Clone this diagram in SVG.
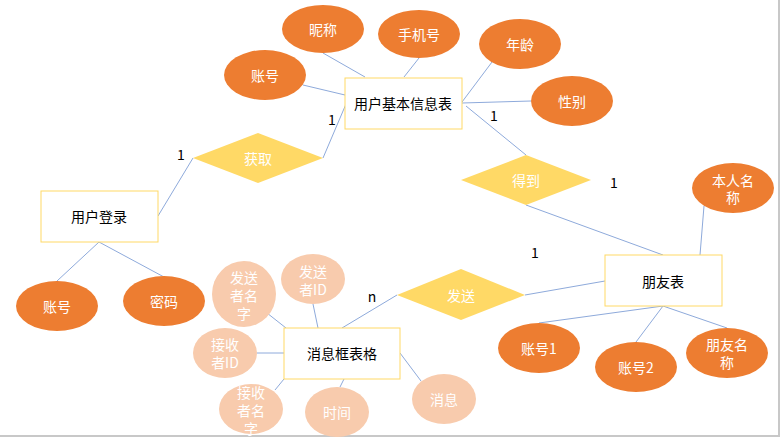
<svg xmlns="http://www.w3.org/2000/svg" width="780" height="437" viewBox="0 0 780 437">
<style>
text{font-family:"Noto Sans CJK SC","Liberation Sans",sans-serif;font-size:14px;text-anchor:middle;dominant-baseline:central}
.e{fill:#ed7d31}.l{fill:#f8cbad}.r{fill:#fff;stroke:#ffd966;stroke-width:1}.d{fill:#ffd966;stroke:none}
.w{fill:#fff}.k{fill:#000}
#c line{stroke:#8eaadb;stroke-width:1}
</style>
<rect width="780" height="437" fill="#fff"/>
<path d="M779,0V436H0" fill="none" stroke="#c8c8c8" stroke-width="2"/>
<g id="c">
<line x1="323" y1="53" x2="365" y2="77"/><line x1="419" y1="58" x2="404" y2="77"/><line x1="492" y1="62" x2="462" y2="102"/>
<line x1="303" y1="85" x2="345" y2="95"/><line x1="531" y1="101" x2="462" y2="103"/>
<line x1="346" y1="104" x2="323" y2="158"/><line x1="193" y1="158" x2="158" y2="216"/>
<line x1="466" y1="106" x2="526" y2="155"/><line x1="526" y1="205" x2="663" y2="255"/>
<line x1="704" y1="206" x2="700" y2="255"/>
<line x1="99" y1="242" x2="57" y2="281"/><line x1="99" y1="242" x2="164" y2="277"/>
<line x1="525" y1="295" x2="605" y2="281"/><line x1="397" y1="295" x2="342" y2="328"/>
<line x1="663" y1="306" x2="539" y2="323"/><line x1="663" y1="306" x2="636" y2="342"/><line x1="663" y1="306" x2="727" y2="328"/>
<line x1="267" y1="313" x2="286" y2="328"/><line x1="313" y1="304" x2="318" y2="328"/><line x1="257" y1="353" x2="284" y2="353"/>
<line x1="275" y1="390" x2="284" y2="379"/><line x1="344" y1="379" x2="340" y2="387"/><line x1="400" y1="353" x2="421" y2="381"/>
</g>
<g id="labels" class="k"><text x="332" y="119">1</text><text x="181" y="154">1</text><text x="494" y="115">1</text><text x="614" y="182">1</text><text x="535" y="252">1</text><text x="372" y="296">n</text></g>
<g id="n1"><ellipse class="e" cx="323" cy="29" rx="41" ry="24"/><text class="w" x="323" y="29">昵称</text></g>
<g id="n2"><ellipse class="e" cx="419" cy="34" rx="41" ry="24"/><text class="w" x="419" y="34">手机号</text></g>
<g id="n3"><ellipse class="e" cx="520" cy="44" rx="41" ry="25"/><text class="w" x="520" y="44">年龄</text></g>
<g id="n4"><ellipse class="e" cx="265" cy="75" rx="41" ry="25"/><text class="w" x="265" y="75">账号</text></g>
<g id="n5"><ellipse class="e" cx="572" cy="101" rx="41" ry="25"/><text class="w" x="572" y="101">性别</text></g>
<g id="n6"><rect class="r" x="345" y="78" width="117" height="51"/><text class="k" x="403" y="103">用户基本信息表</text></g>
<g id="n7"><polygon class="d" points="193,158 258,133 323,158 258,183"/><text class="w" x="258" y="158">获取</text></g>
<g id="n8"><rect class="r" x="41" y="191" width="117" height="51"/><text class="k" x="99" y="216">用户登录</text></g>
<g id="n9"><polygon class="d" points="461,180 526,155 591,180 526,205"/><text class="w" x="526" y="180">得到</text></g>
<g id="n10"><ellipse class="e" cx="733" cy="188" rx="41" ry="25"/><text class="w" x="733" y="180">本人名</text><text class="w" x="733" y="197">称</text></g>
<g id="n11"><rect class="r" x="605" y="255" width="117" height="51"/><text class="k" x="663" y="281">朋友表</text></g>
<g id="n12"><polygon class="d" points="397,295 461,269 525,295 461,320"/><text class="w" x="461" y="295">发送</text></g>
<g id="n13"><ellipse class="e" cx="57" cy="306" rx="41" ry="25"/><text class="w" x="57" y="306">账号</text></g>
<g id="n14"><ellipse class="e" cx="164" cy="301" rx="41" ry="25"/><text class="w" x="164" y="301">密码</text></g>
<g id="n15"><rect class="r" x="284" y="328" width="116" height="51"/><text class="k" x="342" y="353">消息框表格</text></g>
<g id="n16"><ellipse class="l" cx="244" cy="294" rx="32" ry="33"/><text class="w" x="244" y="277">发送</text><text class="w" x="244" y="295">者名</text><text class="w" x="244" y="313">字</text></g>
<g id="n17"><ellipse class="l" cx="313" cy="279" rx="32" ry="25"/><text class="w" x="313" y="271">发送</text><text class="w" x="313" y="289">者ID</text></g>
<g id="n18"><ellipse class="l" cx="225" cy="353" rx="32" ry="25"/><text class="w" x="225" y="344">接收</text><text class="w" x="225" y="362">者ID</text></g>
<g id="n19"><ellipse class="l" cx="251" cy="409" rx="32" ry="25"/><text class="w" x="251" y="392">接收</text><text class="w" x="251" y="410">者名</text><text class="w" x="251" y="428">字</text></g>
<g id="n20"><ellipse class="l" cx="337" cy="412" rx="32" ry="25"/><text class="w" x="337" y="412">时间</text></g>
<g id="n21"><ellipse class="l" cx="444" cy="399" rx="32" ry="25"/><text class="w" x="444" y="399">消息</text></g>
<g id="n22"><ellipse class="e" cx="539" cy="348" rx="41" ry="25"/><text class="w" x="539" y="348">账号1</text></g>
<g id="n23"><ellipse class="e" cx="636" cy="367" rx="41" ry="25"/><text class="w" x="636" y="367">账号2</text></g>
<g id="n24"><ellipse class="e" cx="727" cy="353" rx="41" ry="25"/><text class="w" x="727" y="344">朋友名</text><text class="w" x="727" y="362">称</text></g>
</svg>
